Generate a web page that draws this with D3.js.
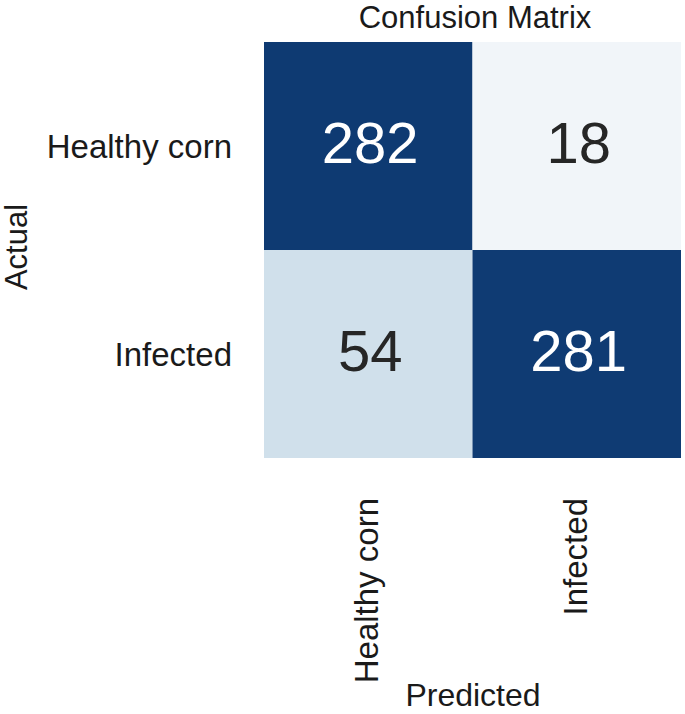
<!DOCTYPE html>
<html>
<head>
<meta charset="utf-8">
<script src="https://cdn.jsdelivr.net/npm/d3@7"></script>
<style>
  body { margin: 0; background: #fff; }
  text { font-family: "Liberation Sans", Arial, sans-serif; fill: #1a1a1a; }
</style>
</head>
<body>
<script>
var classes = ["Healthy corn", "Infected"];
var actual = ["Healthy corn", "Healthy corn", "Infected", "Infected"];
var predicted = ["Healthy corn", "Infected", "Healthy corn", "Infected"];
var counts = [282, 18, 54, 281];

var width = 685,
    height = 714;

var svg = d3.select("body").append("svg")
    .attr("width", width)
    .attr("height", height);

var x = d3.scaleBand().domain(classes).range([264, 681]);
var y = d3.scaleBand().domain(classes).range([42, 458]);

var color = d3.scaleLinear()
    .domain([18, 54, 282])
    .range(["#f1f5f9", "#d0e0eb", "#0e3a72"]);

var cells = counts.map(function(v, i) {
  return {actual: actual[i], predicted: predicted[i], value: v};
});

svg.append("g")
  .selectAll("rect")
    .data(cells)
  .enter().append("rect")
    .attr("x", function(d) { return x(d.predicted); })
    .attr("y", function(d) { return y(d.actual); })
    .attr("width", x.bandwidth())
    .attr("height", y.bandwidth())
    .attr("fill", function(d) { return color(d.value); });

svg.append("g")
  .selectAll("text")
    .data(cells)
  .enter().append("text")
    .attr("x", function(d) { return x(d.predicted) + x.bandwidth() / 2 + 2; })
    .attr("y", function(d) { return y(d.actual) + y.bandwidth() / 2 + 17; })
    .attr("text-anchor", "middle")
    .style("font-size", "58px")
    .style("fill", function(d) { return d.value > 150 ? "#ffffff" : "#262626"; })
    .text(function(d) { return d.value; });

// y tick labels
svg.append("g")
  .selectAll("text")
    .data(classes)
  .enter().append("text")
    .attr("x", 232)
    .attr("y", function(d) { return y(d) + y.bandwidth() / 2 + 12; })
    .attr("text-anchor", "end")
    .style("font-size", "33px")
    .text(function(d) { return d; });

// x tick labels, rotated
svg.append("g")
  .selectAll("text")
    .data(classes)
  .enter().append("text")
    .attr("transform", function(d) {
      return "translate(" + (x(d) + x.bandwidth() / 2 + 10) + ",498) rotate(-90)";
    })
    .attr("text-anchor", "end")
    .style("font-size", "33px")
    .text(function(d) { return d; });

svg.append("text")
    .attr("x", 475)
    .attr("y", 28)
    .attr("text-anchor", "middle")
    .style("font-size", "31px")
    .text("Confusion Matrix");

svg.append("text")
    .attr("transform", "translate(27,247) rotate(-90)")
    .attr("text-anchor", "middle")
    .style("font-size", "31px")
    .text("Actual");

svg.append("text")
    .attr("x", 473)
    .attr("y", 706)
    .attr("text-anchor", "middle")
    .style("font-size", "32px")
    .text("Predicted");
</script>
</body>
</html>
